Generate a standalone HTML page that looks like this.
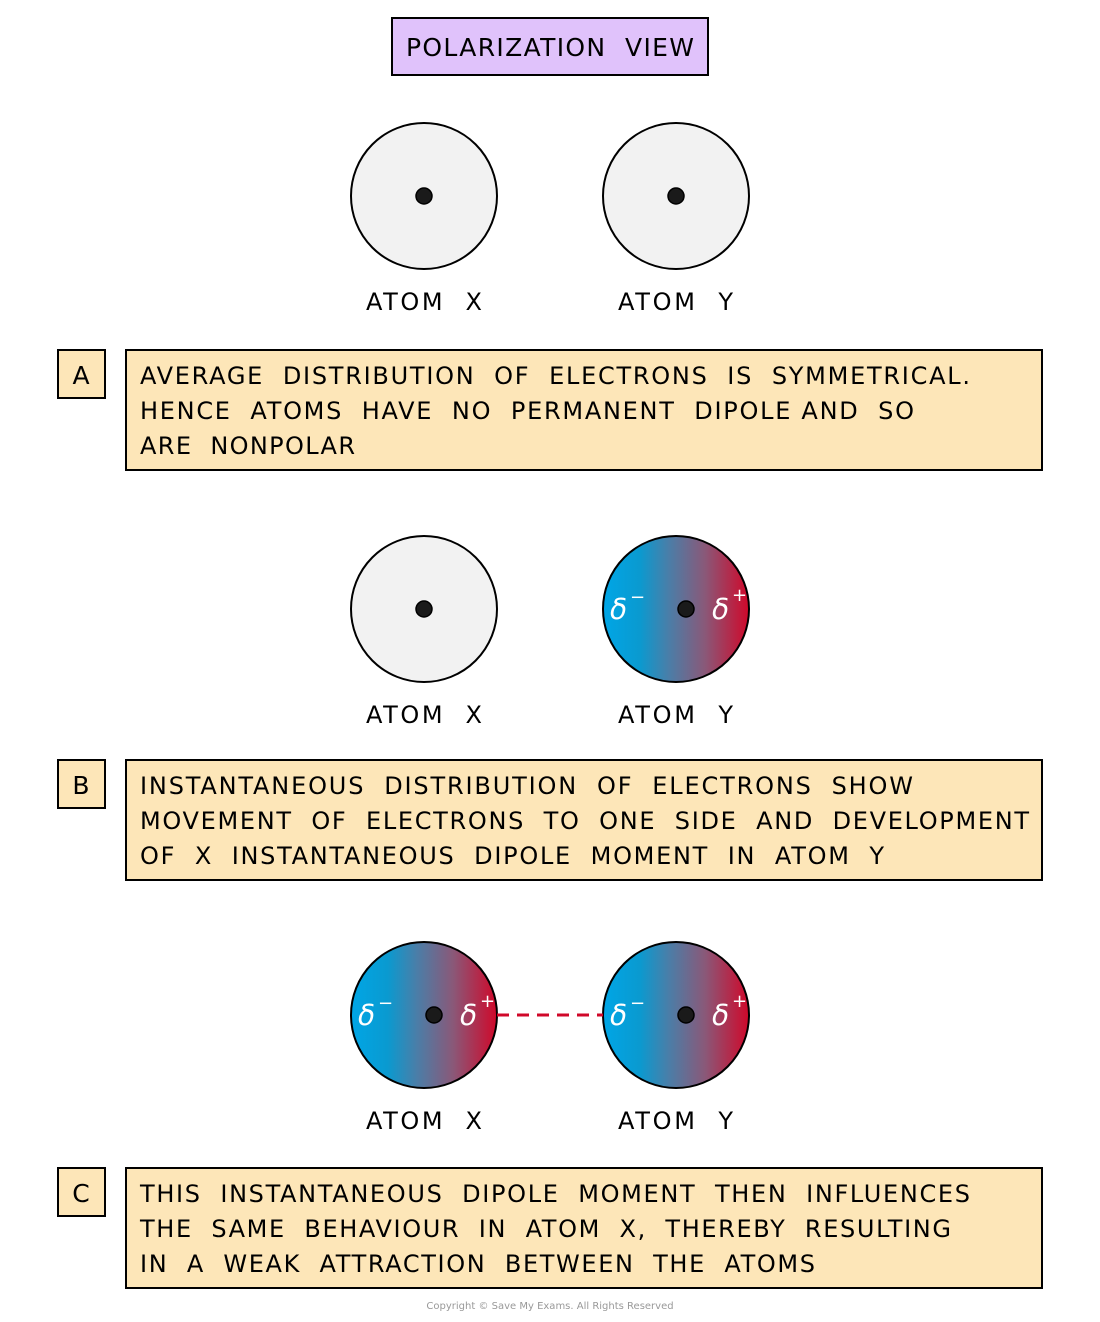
<!DOCTYPE html><html><head><style>body{margin:0;background:#fff}svg text{font-family:"DejaVu Sans","Liberation Sans",sans-serif;white-space:pre}</style></head><body>
<svg width="1100" height="1317" viewBox="0 0 1100 1317" xmlns="http://www.w3.org/2000/svg">
<defs><linearGradient id="g" x1="0" x2="1" y1="0" y2="0"><stop offset="0" stop-color="#00a6e6"/><stop offset="0.25" stop-color="#0a9ad0"/><stop offset="0.45" stop-color="#4a7ea8"/><stop offset="0.7" stop-color="#8a5878"/><stop offset="1" stop-color="#d0082a"/></linearGradient></defs>
<rect x="392" y="18" width="316" height="57" fill="#e0c2fb" stroke="#000" stroke-width="2"/>
<text x="406" y="56" font-size="25" textLength="288" lengthAdjust="spacing">POLARIZATION  VIEW</text>
<g stroke="#000" stroke-width="2">
<circle cx="424" cy="196" r="73" fill="#f2f2f2"/><circle cx="676" cy="196" r="73" fill="#f2f2f2"/>
<circle cx="424" cy="609" r="73" fill="#f2f2f2"/><circle cx="676" cy="609" r="73" fill="url(#g)"/>
<circle cx="424" cy="1015" r="73" fill="url(#g)"/><circle cx="676" cy="1015" r="73" fill="url(#g)"/>
</g>
<line x1="497" y1="1015" x2="603" y2="1015" stroke="#d0082a" stroke-width="3" stroke-dasharray="12,8"/>
<g fill="#1a1a1a" stroke="#000" stroke-width="1.5">
<circle cx="424" cy="196" r="8"/><circle cx="676" cy="196" r="8"/><circle cx="424" cy="609" r="8"/><circle cx="686" cy="609" r="8"/><circle cx="434" cy="1015" r="8"/><circle cx="686" cy="1015" r="8"/></g>
<g fill="#fff" font-size="28" font-style="italic">
<text x="610" y="619">δ</text><text x="630" y="603" font-size="18">−</text>
<text x="712" y="619">δ</text><text x="732" y="601" font-size="18">+</text>
<text x="358" y="1025">δ</text><text x="378" y="1009" font-size="18">−</text>
<text x="460" y="1025">δ</text><text x="480" y="1007" font-size="18">+</text>
<text x="610" y="1025">δ</text><text x="630" y="1009" font-size="18">−</text>
<text x="712" y="1025">δ</text><text x="732" y="1007" font-size="18">+</text>
</g>
<g font-size="24" lengthAdjust="spacing">
<text x="366" y="310" textLength="116">ATOM  X</text><text x="618" y="310" textLength="115">ATOM  Y</text>
<text x="366" y="723" textLength="116">ATOM  X</text><text x="618" y="723" textLength="115">ATOM  Y</text>
<text x="366" y="1129" textLength="116">ATOM  X</text><text x="618" y="1129" textLength="115">ATOM  Y</text>
</g>
<g stroke="#000" stroke-width="2" fill="#fde6b8">
<rect x="58" y="350" width="47" height="48"/><rect x="126" y="350" width="916" height="120"/>
<rect x="58" y="760" width="47" height="48"/><rect x="126" y="760" width="916" height="120"/>
<rect x="58" y="1168" width="47" height="48"/><rect x="126" y="1168" width="916" height="120"/>
</g>
<g font-size="25" text-anchor="middle"><text x="81" y="384">A</text><text x="81" y="794">B</text><text x="81" y="1202">C</text></g>
<g font-size="24">
<text x="140" y="384" textLength="830" lengthAdjust="spacing">AVERAGE  DISTRIBUTION  OF  ELECTRONS  IS  SYMMETRICAL.</text>
<text x="140" y="419" textLength="774" lengthAdjust="spacing">HENCE  ATOMS  HAVE  NO  PERMANENT  DIPOLE AND  SO</text>
<text x="140" y="454" textLength="215" lengthAdjust="spacing">ARE  NONPOLAR</text>
<text x="140" y="794" textLength="773" lengthAdjust="spacing">INSTANTANEOUS  DISTRIBUTION  OF  ELECTRONS  SHOW</text>
<text x="140" y="829" textLength="889" lengthAdjust="spacing">MOVEMENT  OF  ELECTRONS  TO  ONE  SIDE  AND  DEVELOPMENT</text>
<text x="140" y="864" textLength="744" lengthAdjust="spacing">OF  X  INSTANTANEOUS  DIPOLE  MOMENT  IN  ATOM  Y</text>
<text x="140" y="1202" textLength="830" lengthAdjust="spacing">THIS  INSTANTANEOUS  DIPOLE  MOMENT  THEN  INFLUENCES</text>
<text x="140" y="1237" textLength="811" lengthAdjust="spacing">THE  SAME  BEHAVIOUR  IN  ATOM  X,  THEREBY  RESULTING</text>
<text x="140" y="1272" textLength="675" lengthAdjust="spacing">IN  A  WEAK  ATTRACTION  BETWEEN  THE  ATOMS</text>
</g>
<text x="550" y="1309" font-size="10" fill="#999" text-anchor="middle">Copyright © Save My Exams. All Rights Reserved</text>
</svg></body></html>
